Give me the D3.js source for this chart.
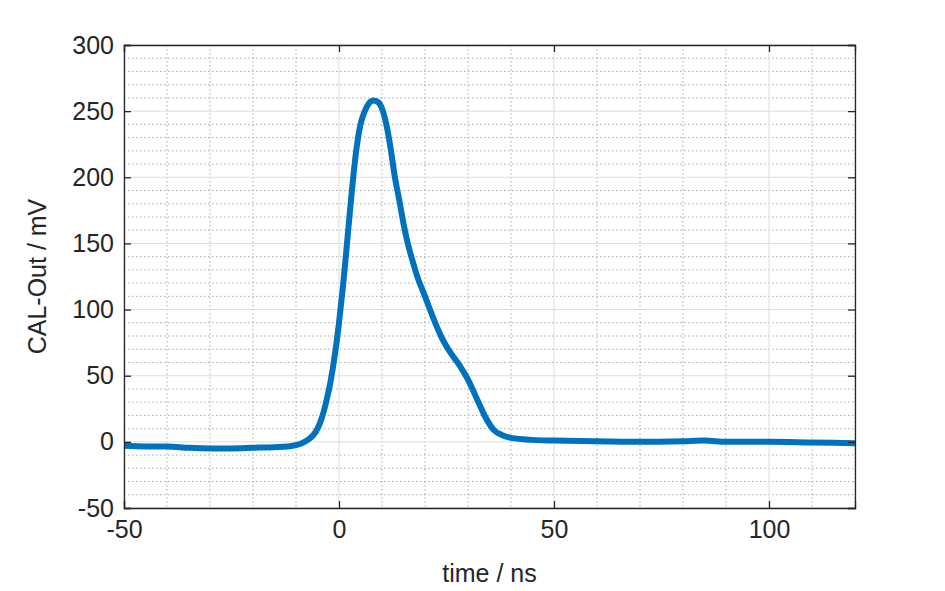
<!DOCTYPE html><html><head><meta charset="utf-8"><script src="https://cdn.jsdelivr.net/npm/d3@7"></script>
<style>body{margin:0;background:#fff}svg{font-family:Arial,"Liberation Sans",sans-serif}</style></head><body><svg id="c" width="945" height="591"></svg><script>
const timeNs=[-50,-45,-40,-35,-30,-25,-20,-15,-12,-10,-8,-7,-6,-5,-4,-3,-2,-1,0,1,2,3,4,5,6,7,8,9,10,11,12,13,14,15,16,17,18,20,22,24,26,28,30,32,34,36,38,40,45,50,60,70,80,85,90,100,110,120];
const calOut=[-3,-3.5,-3.5,-4.5,-5,-5,-4.5,-4,-3.5,-2.5,0,2,5,10,18,30,45,65,90,120,155,190,220,240,250,256,258,257,252,240,222,200,183,165,150,138,127,110,93,78,67,58,47,33,19,9,5,3,1.5,1,0.5,0,0.5,1,0,0,-0.5,-1];
const xTicks=[-50,0,50,100], yTicks=[-50,0,50,100,150,200,250,300];
const svg=d3.select("#c"),L=124,R=855,T=45,B=508;
const x=d3.scaleLinear().domain([-50,120]).range([L,R]);
const y=d3.scaleLinear().domain([-50,300]).range([B,T]);
const fmt=v=>String(v);
const g=svg.append("g");
d3.range(-40,121,10).forEach(v=>{if(v%50)g.append("line").attr("x1",x(v)).attr("x2",x(v)).attr("y1",T).attr("y2",B).attr("stroke","#aaa").attr("stroke-dasharray","1.5,2.5").attr("stroke-width",1);});
d3.range(-40,300,10).forEach(v=>{if(v%50)g.append("line").attr("y1",y(v)).attr("y2",y(v)).attr("x1",L).attr("x2",R).attr("stroke","#aaa").attr("stroke-dasharray","1.5,2.5").attr("stroke-width",1);});
xTicks.forEach(v=>g.append("line").attr("x1",x(v)).attr("x2",x(v)).attr("y1",T).attr("y2",B).attr("stroke","#ddd"));
yTicks.forEach(v=>g.append("line").attr("y1",y(v)).attr("y2",y(v)).attr("x1",L).attr("x2",R).attr("stroke","#ddd"));
svg.append("path").datum(timeNs.map((t,i)=>[t,calOut[i]])).attr("fill","none").attr("stroke","#0072BD").attr("stroke-width",6).attr("stroke-linejoin","round")
 .attr("d",d3.line().x(d=>x(d[0])).y(d=>y(d[1])).curve(d3.curveMonotoneX));
const ax=svg.append("g").attr("transform",`translate(0,${B})`).call(d3.axisBottom(x).tickValues(xTicks).tickSize(-7).tickPadding(12).tickFormat(fmt));
const ay=svg.append("g").attr("transform",`translate(${L},0)`).call(d3.axisLeft(y).tickValues(yTicks).tickSize(-7).tickPadding(10).tickFormat(fmt));
const at=svg.append("g").attr("transform",`translate(0,${T})`).call(d3.axisTop(x).tickValues(xTicks).tickSize(-7).tickFormat(""));
const ar=svg.append("g").attr("transform",`translate(${R},0)`).call(d3.axisRight(y).tickValues(yTicks).tickSize(-7).tickFormat(""));
[ax,ay,at,ar].forEach(a=>{a.attr("font-size",null).attr("font-family",null);a.selectAll("path,line").attr("stroke","#262626").attr("stroke-width",1.3);a.selectAll("text").attr("fill","#262626").style("font-size","25px");});
svg.append("text").attr("x",(L+R)/2).attr("y",582).attr("text-anchor","middle").style("font-size","25px").attr("fill","#262626").text("time / ns");
svg.append("text").attr("transform",`translate(46,${(T+B)/2}) rotate(-90)`).attr("text-anchor","middle").style("font-size","25px").attr("fill","#262626").text("CAL-Out / mV");
</script></body></html>
